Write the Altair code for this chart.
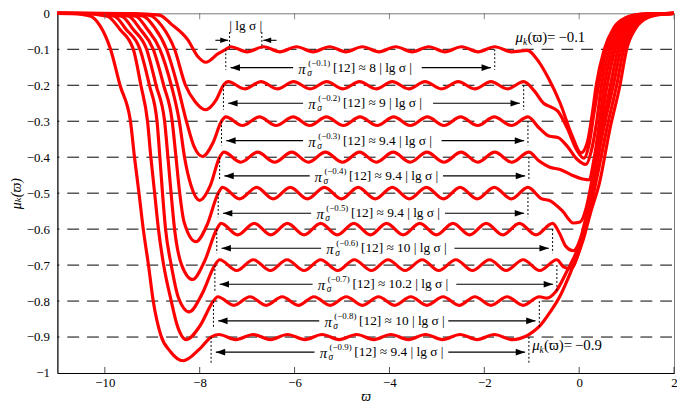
import altair as alt
import pandas as pd

SERIF = "Liberation Serif, DejaVu Serif"

levels = [-0.1, -0.2, -0.3, -0.4, -0.5, -0.6, -0.7, -0.8, -0.9]
x_ticks = [-10, -8, -6, -4, -2, 0, 2]
y_ticks = [0, -0.1, -0.2, -0.3, -0.4, -0.5, -0.6, -0.7, -0.8, -0.9, -1]

curve_01 = [(-11.0, 0.0), (-9.4, -0.0005), (-8.85, -0.005), (-8.6, -0.03), (-8.25, -0.074),
            (-8.04, -0.12), (-7.87, -0.136), (-7.62, -0.113), (-7.45, -0.1), (-7.35, -0.093),
            (-7.00, -0.107), (-6.65, -0.093), (-6.31, -0.107), (-5.96, -0.093), (-5.61, -0.107),
            (-5.26, -0.093), (-4.92, -0.107), (-4.57, -0.093), (-4.22, -0.107), (-3.87, -0.093),
            (-3.52, -0.107), (-3.17, -0.093), (-2.83, -0.107), (-2.48, -0.093), (-2.13, -0.107),
            (-1.78, -0.093), (-1.43, -0.107), (-1.1, -0.103), (-0.85, -0.135), (-0.65, -0.18),
            (-0.4, -0.25), (-0.15, -0.34), (0.04, -0.388), (0.17, -0.36), (0.27, -0.285),
            (0.36, -0.2), (0.53, -0.1), (0.73, -0.04), (0.98, -0.012), (1.3, -0.002), (2.0, 0.0)]

curve_02 = [(-11.0, 0.0), (-9.6, -0.0005), (-9.05, -0.006), (-8.8, -0.035), (-8.53, -0.1),
            (-8.3, -0.2), (-8.1, -0.245), (-7.88, -0.268), (-7.65, -0.24), (-7.5, -0.2), (-7.40, -0.19),
            (-7.05, -0.21), (-6.71, -0.19), (-6.36, -0.21), (-6.02, -0.19), (-5.67, -0.21),
            (-5.32, -0.19), (-4.98, -0.21), (-4.63, -0.19), (-4.28, -0.21), (-3.94, -0.19),
            (-3.59, -0.21), (-3.25, -0.19), (-2.90, -0.21), (-2.55, -0.19), (-2.20, -0.21),
            (-1.86, -0.19), (-1.51, -0.21), (-1.17, -0.19), (-0.95, -0.215), (-0.75, -0.25),
            (-0.6, -0.26), (-0.45, -0.272), (-0.25, -0.32), (-0.05, -0.38), (0.1, -0.403),
            (0.2, -0.37), (0.31, -0.28), (0.41, -0.2), (0.58, -0.1), (0.78, -0.04),
            (1.03, -0.012), (1.35, -0.002), (2.0, 0.0)]

curve_03 = [(-11.0, 0.0), (-9.75, -0.0005), (-9.2, -0.007), (-8.95, -0.04), (-8.70, -0.1),
            (-8.47, -0.2), (-8.28, -0.3), (-8.12, -0.37), (-7.94, -0.398), (-7.72, -0.36),
            (-7.54, -0.3), (-7.45, -0.288),
            (-7.10, -0.312), (-6.74, -0.288), (-6.39, -0.312), (-6.03, -0.288), (-5.68, -0.312),
            (-5.33, -0.288), (-4.97, -0.312), (-4.62, -0.288), (-4.26, -0.312), (-3.91, -0.288),
            (-3.56, -0.312), (-3.20, -0.288), (-2.85, -0.312), (-2.50, -0.288), (-2.14, -0.312),
            (-1.79, -0.288), (-1.43, -0.312), (-1.08, -0.288), (-0.85, -0.318), (-0.62, -0.342),
            (-0.45, -0.345), (-0.25, -0.37), (-0.05, -0.405), (0.14, -0.42), (0.26, -0.38),
            (0.37, -0.3), (0.47, -0.2), (0.64, -0.1), (0.84, -0.04), (1.09, -0.012),
            (1.41, -0.002), (2.0, 0.0)]

curve_04 = [(-11.0, 0.0), (-9.9, -0.0005), (-9.35, -0.008), (-9.1, -0.045), (-8.84, -0.1),
            (-8.6, -0.2), (-8.43, -0.3), (-8.32, -0.4), (-8.18, -0.48), (-8.0, -0.52),
            (-7.78, -0.48), (-7.58, -0.4), (-7.49, -0.386),
            (-7.13, -0.414), (-6.78, -0.386), (-6.42, -0.414), (-6.06, -0.386), (-5.71, -0.414),
            (-5.35, -0.386), (-4.99, -0.414), (-4.63, -0.386), (-4.28, -0.414), (-3.92, -0.386),
            (-3.56, -0.414), (-3.21, -0.386), (-2.85, -0.414), (-2.49, -0.386), (-2.14, -0.414),
            (-1.78, -0.386), (-1.42, -0.414), (-1.06, -0.386), (-0.85, -0.41), (-0.62, -0.428),
            (-0.4, -0.434), (-0.15, -0.45), (0.05, -0.46), (0.2, -0.463), (0.32, -0.4),
            (0.43, -0.3), (0.53, -0.2), (0.70, -0.1), (0.90, -0.04), (1.15, -0.012),
            (1.47, -0.002), (2.0, 0.0)]

curve_05 = [(-11.0, 0.0), (-10.05, -0.0005), (-9.5, -0.008), (-9.25, -0.045), (-8.98, -0.1),
            (-8.76, -0.2), (-8.58, -0.3), (-8.50, -0.4), (-8.43, -0.49), (-8.33, -0.58),
            (-8.08, -0.635), (-7.85, -0.59), (-7.61, -0.5), (-7.52, -0.484),
            (-7.16, -0.516), (-6.80, -0.484), (-6.45, -0.516), (-6.09, -0.484), (-5.73, -0.516),
            (-5.37, -0.484), (-5.01, -0.516), (-4.66, -0.484), (-4.30, -0.516), (-3.94, -0.484),
            (-3.58, -0.516), (-3.22, -0.484), (-2.86, -0.516), (-2.51, -0.484), (-2.15, -0.516),
            (-1.79, -0.484), (-1.43, -0.516), (-1.08, -0.484), (-0.8, -0.515), (-0.6, -0.522),
            (-0.35, -0.55), (-0.12, -0.583), (0.02, -0.58), (0.15, -0.54), (0.3, -0.44),
            (0.45, -0.32), (0.59, -0.2), (0.76, -0.1), (0.96, -0.04), (1.21, -0.012),
            (1.53, -0.002), (2.0, 0.0)]

curve_06 = [(-11.0, 0.0), (-10.2, -0.0005), (-9.65, -0.008), (-9.4, -0.045), (-9.12, -0.1),
            (-8.92, -0.2), (-8.74, -0.3), (-8.67, -0.4), (-8.61, -0.49), (-8.53, -0.6),
            (-8.38, -0.7), (-8.15, -0.74), (-7.9, -0.69), (-7.64, -0.6), (-7.55, -0.584),
            (-7.20, -0.616), (-6.85, -0.584), (-6.50, -0.616), (-6.15, -0.584), (-5.80, -0.616),
            (-5.45, -0.584), (-5.10, -0.616), (-4.75, -0.584), (-4.40, -0.616), (-4.06, -0.584),
            (-3.71, -0.616), (-3.36, -0.584), (-3.01, -0.616), (-2.66, -0.584), (-2.31, -0.616),
            (-1.96, -0.584), (-1.61, -0.616), (-1.26, -0.584), (-0.91, -0.616), (-0.56, -0.584),
            (-0.42, -0.61), (-0.28, -0.648), (-0.12, -0.66), (0.03, -0.625), (0.2, -0.53),
            (0.38, -0.4), (0.52, -0.3), (0.66, -0.2), (0.82, -0.1), (1.02, -0.04),
            (1.27, -0.012), (1.59, -0.002), (2.0, 0.0)]

curve_07 = [(-11.0, 0.0), (-10.35, -0.0005), (-9.8, -0.008), (-9.55, -0.045), (-9.26, -0.1),
            (-9.06, -0.2), (-8.90, -0.3), (-8.84, -0.4), (-8.79, -0.49), (-8.72, -0.6),
            (-8.6, -0.7), (-8.45, -0.79), (-8.22, -0.83), (-7.95, -0.78), (-7.68, -0.7),
            (-7.58, -0.685),
            (-7.22, -0.715), (-6.87, -0.685), (-6.51, -0.715), (-6.16, -0.685), (-5.80, -0.715),
            (-5.45, -0.685), (-5.09, -0.715), (-4.74, -0.685), (-4.38, -0.715), (-4.03, -0.685),
            (-3.67, -0.715), (-3.31, -0.685), (-2.96, -0.715), (-2.60, -0.685), (-2.25, -0.715),
            (-1.89, -0.685), (-1.54, -0.715), (-1.18, -0.685), (-0.83, -0.715), (-0.47, -0.685),
            (-0.33, -0.705), (-0.18, -0.71), (-0.02, -0.67), (0.15, -0.58), (0.32, -0.46),
            (0.5, -0.33), (0.72, -0.2), (0.88, -0.1), (1.08, -0.04), (1.33, -0.012),
            (1.65, -0.002), (2.0, 0.0)]

curve_08 = [(-11.0, 0.0), (-10.5, -0.0005), (-9.95, -0.008), (-9.68, -0.045), (-9.4, -0.1),
            (-9.24, -0.2), (-9.10, -0.3), (-9.03, -0.4), (-8.95, -0.5), (-8.87, -0.6),
            (-8.76, -0.7), (-8.6, -0.8), (-8.48, -0.865), (-8.28, -0.907), (-8.0, -0.87),
            (-7.71, -0.8), (-7.62, -0.788),
            (-7.28, -0.812), (-6.94, -0.788), (-6.60, -0.812), (-6.26, -0.788), (-5.92, -0.812),
            (-5.59, -0.788), (-5.25, -0.812), (-4.91, -0.788), (-4.57, -0.812), (-4.23, -0.788),
            (-3.89, -0.812), (-3.55, -0.788), (-3.21, -0.812), (-2.87, -0.788), (-2.53, -0.812),
            (-2.20, -0.788), (-1.86, -0.812), (-1.52, -0.788), (-1.18, -0.812), (-0.84, -0.788),
            (-0.68, -0.792), (-0.5, -0.775), (-0.25, -0.715), (0.0, -0.645), (0.2, -0.56),
            (0.4, -0.44), (0.6, -0.31), (0.79, -0.2), (0.94, -0.1), (1.14, -0.04),
            (1.39, -0.012), (1.71, -0.002), (2.0, 0.0)]

curve_09 = [(-11.0, 0.0), (-10.7, -0.0008), (-10.3, -0.008), (-10.1, -0.035), (-9.88, -0.1),
            (-9.68, -0.2), (-9.46, -0.3), (-9.375, -0.4), (-9.28, -0.5), (-9.19, -0.6),
            (-9.08, -0.7), (-8.98, -0.8), (-8.82, -0.895), (-8.62, -0.94), (-8.35, -0.966),
            (-8.0, -0.933), (-7.76, -0.9), (-7.60, -0.893),
            (-7.24, -0.907), (-6.87, -0.893), (-6.51, -0.907), (-6.15, -0.893), (-5.78, -0.907),
            (-5.42, -0.893), (-5.06, -0.907), (-4.69, -0.893), (-4.33, -0.907), (-3.97, -0.893),
            (-3.60, -0.907), (-3.24, -0.893), (-2.88, -0.907), (-2.51, -0.893), (-2.15, -0.907),
            (-1.79, -0.893), (-1.42, -0.907), (-1.06, -0.893), (-0.85, -0.872), (-0.61, -0.83),
            (-0.40, -0.785), (-0.15, -0.71), (0.08, -0.632), (0.25, -0.55), (0.43, -0.47),
            (0.65, -0.32), (0.86, -0.2), (1.0, -0.1), (1.2, -0.04), (1.45, -0.012),
            (1.77, -0.002), (2.0, 0.0)]

curves = [curve_01, curve_02, curve_03, curve_04, curve_05,
          curve_06, curve_07, curve_08, curve_09]

# annotation values (data units)
left_dot_x = [-7.45, -7.5, -7.54, -7.58, -7.61, -7.64, -7.68, -7.71, -7.76]
right_dot_x = [-1.78, -1.17, -1.08, -1.06, -1.08, -0.56, -0.47, -0.84, -1.06]
dot_bottom = [-0.157, -0.268, -0.367, -0.465, -0.567, -0.667, -0.775, -0.875, -0.977]
arrow_y = [-0.151, -0.25, -0.354, -0.452, -0.556, -0.653, -0.753, -0.855, -0.942]
arrow_left_tip = [-7.35, -7.40, -7.44, -7.48, -7.51, -7.54, -7.58, -7.61, -7.66]
arrow_right_tip = [-1.86, -1.25, -1.16, -1.14, -1.16, -0.64, -0.55, -0.92, -1.14]
seg_left_end = [-6.03, -5.82, -5.82, -5.68, -5.65, -5.44, -5.62, -5.48, -5.58]
seg_right_start = [-3.32, -3.08, -2.90, -2.87, -2.83, -2.63, -2.59, -2.76, -2.76]
label_start = [-5.92, -5.71, -5.71, -5.58, -5.54, -5.33, -5.51, -5.37, -5.47]
sup_text = ["(−0.1)", "(−0.2)", "(−0.3)", "(−0.4)", "(−0.5)",
            "(−0.6)", "(−0.7)", "(−0.8)", "(−0.9)"]
main_text = ["[12] ≈ 8 | lg σ |", "[12] ≈ 9 | lg σ |", "[12] ≈ 9.4 | lg σ |",
             "[12] ≈ 9.4 | lg σ |", "[12] ≈ 9.4 | lg σ |", "[12] ≈ 10 | lg σ |",
             "[12] ≈ 10.2 | lg σ |", "[12] ≈ 10 | lg σ |", "[12] ≈ 9.4 | lg σ |"]

# top |lg sigma| marker
top_dot_x = [-7.37, -6.69]
top_dot_y = [-0.052, -0.098]
top_text_x = [-7.03]
top_text_y = [-0.036]
top_arrow_y = -0.075
top_arrow_right = [(-7.67, -7.40)]   # from, tip (pointing right)
top_arrow_left = [(-6.38, -6.66)]    # from, tip (pointing left)

mu_x = [-1.34, -0.99]
mu_y = [-0.08, -0.937]
mu_rest = ["(ϖ)=\u2009−0.1", "(ϖ)=\u2009−0.9"]

# ---------------- data frames ----------------
rows = []
for lev, pts in zip(levels, curves):
    for x, y in pts:
        rows.append({"level": lev, "x": x, "y": y})
curve_df = pd.DataFrame(rows)

ann = pd.DataFrame({
    "level": levels, "ay": arrow_y, "ls": label_start,
    "sup": sup_text, "main": main_text,
})

dots = pd.DataFrame({
    "x": left_dot_x + right_dot_x + top_dot_x,
    "y": levels + levels + [top_dot_y[0]] * 2,
    "y2": dot_bottom + dot_bottom + [top_dot_y[1]] * 2,
})

segs = pd.DataFrame({
    "x": arrow_left_tip + seg_right_start + [top_arrow_right[0][0], top_arrow_left[0][1]],
    "x2": seg_left_end + arrow_right_tip + [top_arrow_right[0][1], top_arrow_left[0][0]],
    "y": arrow_y + arrow_y + [top_arrow_y, top_arrow_y],
})

heads_left = pd.DataFrame({"x": arrow_left_tip, "y": arrow_y})
heads_right = pd.DataFrame({"x": arrow_right_tip, "y": arrow_y})
small_left = pd.DataFrame({"x": [top_arrow_left[0][1]], "y": [top_arrow_y]})
small_right = pd.DataFrame({"x": [top_arrow_right[0][1]], "y": [top_arrow_y]})

mu_df = pd.DataFrame({"x": mu_x, "y": mu_y, "rest": mu_rest})
top_txt = pd.DataFrame({"x": top_text_x, "y": top_text_y, "t": ["| lg σ |"]})

xs = alt.Scale(domain=[-11, 2], nice=False, zero=False)
ys = alt.Scale(domain=[-1, 0], nice=False, zero=False)

AX = alt.Axis(values=x_ticks, grid=False, ticks=False, tickSize=0,
              labelPadding=4, labelFontSize=13, labelFlush=False,
              title="ϖ", titleFontSize=14, titleFontStyle="italic",
              titleFontWeight="normal", titlePadding=0, domainColor="black")
AY = alt.Axis(values=y_ticks, format=".1~f", grid=False, ticks=False,
              tickSize=0, labelPadding=8, labelFontSize=13, labelFlush=False,
              title="μₖ(ϖ)", titleFontSize=14, titleFontStyle="italic",
              titleFontWeight="normal", titlePadding=3, domainColor="black")


def X(f):
    return alt.X(f, type="quantitative", scale=xs, axis=AX)


def Y(f):
    return alt.Y(f, type="quantitative", scale=ys, axis=AY)


RIGHT_HEAD = "M0,0L-2,-0.7L-2,0.7Z"
LEFT_HEAD = "M0,0L2,-0.7L2,0.7Z"

hlines = alt.Chart(pd.DataFrame({"y": levels})).mark_rule(
    color="black", strokeWidth=1, strokeDash=[12, 8], strokeDashOffset=18
).encode(y=Y("y"))

lines = alt.Chart(curve_df).mark_line(
    color="#ff0000", strokeWidth=3.2, interpolate="monotone"
).encode(x=X("x"), y=Y("y"), detail="level:N")

dotted = alt.Chart(dots).mark_rule(color="black", strokeWidth=1, strokeDash=[2, 2]).encode(
    x=X("x"), y=Y("y"), y2="y2"
)

arrows = alt.Chart(segs).mark_rule(color="black", strokeWidth=1.1).encode(
    x=X("x"), x2="x2", y=Y("y")
)

hl = alt.Chart(heads_left).mark_point(
    shape=LEFT_HEAD, filled=True, size=90, color="black", opacity=1, strokeWidth=0
).encode(x=X("x"), y=Y("y"))
hr = alt.Chart(heads_right).mark_point(
    shape=RIGHT_HEAD, filled=True, size=90, color="black", opacity=1, strokeWidth=0
).encode(x=X("x"), y=Y("y"))
shl = alt.Chart(small_left).mark_point(
    shape=LEFT_HEAD, filled=True, size=64, color="black", opacity=1, strokeWidth=0
).encode(x=X("x"), y=Y("y"))
shr = alt.Chart(small_right).mark_point(
    shape=RIGHT_HEAD, filled=True, size=64, color="black", opacity=1, strokeWidth=0
).encode(x=X("x"), y=Y("y"))

base_lab = alt.Chart(ann)
pi_t = base_lab.mark_text(text="π", font=SERIF, fontSize=15, fontStyle="italic",
                          align="left", baseline="middle", dy=1, color="black"
                          ).encode(x=X("ls"), y=Y("ay"))
sub_t = base_lab.mark_text(text="σ", font=SERIF, fontSize=9.5, fontStyle="italic",
                           align="left", baseline="middle", dx=9, dy=5, color="black"
                           ).encode(x=X("ls"), y=Y("ay"))
sup_t = base_lab.mark_text(font=SERIF, fontSize=9, align="left", baseline="middle",
                           dx=10, dy=-5, color="black"
                           ).encode(x=X("ls"), y=Y("ay"), text="sup:N")
main_t = base_lab.mark_text(font=SERIF, fontSize=13.5, align="left", baseline="middle",
                            dx=35, dy=0, color="black"
                            ).encode(x=X("ls"), y=Y("ay"), text="main:N")

top_t = alt.Chart(top_txt).mark_text(font=SERIF, fontSize=13.5, align="center",
                                     baseline="middle", color="black"
                                     ).encode(x=X("x"), y=Y("y"), text="t:N")

mu_base = alt.Chart(mu_df)
mu_t = mu_base.mark_text(text="μ", font=SERIF, fontSize=15, fontStyle="italic",
                         align="left", baseline="alphabetic", color="black"
                         ).encode(x=X("x"), y=Y("y"))
k_t = mu_base.mark_text(text="k", font=SERIF, fontSize=9.5, fontStyle="italic",
                        align="left", baseline="alphabetic", dx=7.5, dy=3, color="black"
                        ).encode(x=X("x"), y=Y("y"))
rest_t = mu_base.mark_text(font=SERIF, fontSize=15, align="left", baseline="alphabetic",
                           dx=12, color="black"
                           ).encode(x=X("x"), y=Y("y"), text="rest:N")

tick_df = pd.DataFrame({"t": x_ticks, "yb": [-1] * len(x_ticks), "yt": [0] * len(x_ticks)})
ticks_bottom = alt.Chart(tick_df).mark_tick(
    orient="vertical", size=6, thickness=1, color="black", yOffset=-3
).encode(x=X("t"), y=Y("yb"))
ticks_top = alt.Chart(tick_df).mark_tick(
    orient="vertical", size=6, thickness=1, color="#555", yOffset=3
).encode(x=X("t"), y=Y("yt"))

chart = alt.layer(
    hlines, lines, dotted, arrows, hl, hr, shl, shr, pi_t, sub_t, sup_t, main_t,
    top_t, mu_t, k_t, rest_t, ticks_bottom, ticks_top
).properties(
    width=624, height=364,
    padding={"left": 50, "top": 3, "right": 3, "bottom": 31},
    autosize=alt.AutoSizeParams(type="none"),
    background="white",
).configure_view(
    stroke="#777", strokeWidth=1
).configure_axis(
    labelFont=SERIF, titleFont=SERIF, labelColor="black", titleColor="black"
)

chart.save("out.html", embed_options={"renderer": "svg", "actions": False})
